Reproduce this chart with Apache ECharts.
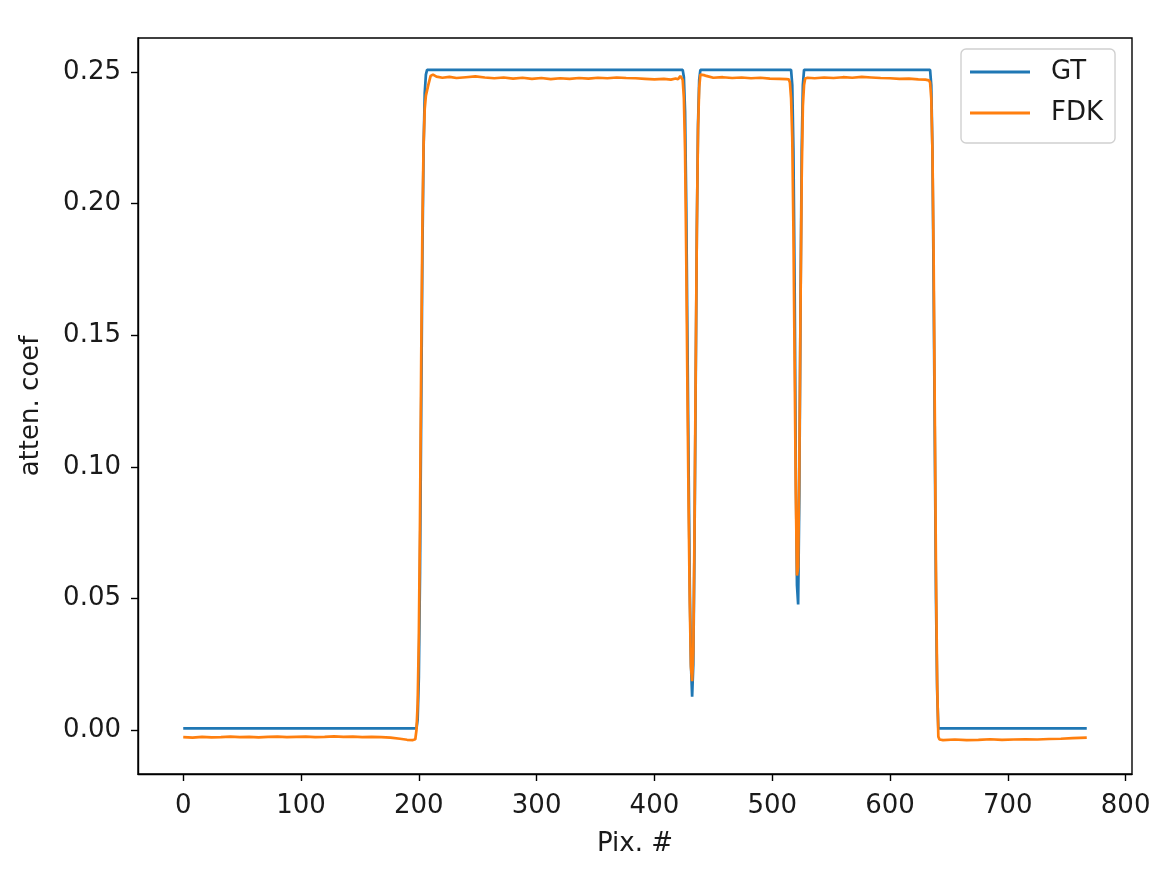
<!DOCTYPE html>
<html>
<head>
<meta charset="utf-8">
<script src="https://cdn.jsdelivr.net/npm/echarts@6/dist/echarts.min.js"></script>
<style>html,body{margin:0;padding:0;background:#fff}#c{width:1174px;height:870px}</style>
</head>
<body>
<div id="c"></div>
<script>
var xTicks = [0, 100, 200, 300, 400, 500, 600, 700, 800];
var yTicks = [0, 0.05, 0.10, 0.15, 0.20, 0.25];
var seriesNames = ['GT', 'FDK'];

var gtData = [
  [0,0.0006],[198,0.0006],[199,0.004],[200,0.02],[201,0.06],[202,0.12],[203,0.18],[204,0.22],[205,0.242],[206,0.249],[207,0.2508],
  [424,0.2508],[425,0.248],[426,0.235],[427,0.2],[428,0.15],[429,0.1],[430,0.055],[431,0.025],[432,0.0127],[433,0.025],[434,0.07],[435,0.13],[436,0.19],[437,0.23],[438,0.247],[439,0.2508],
  [516,0.2508],[517,0.245],[518,0.22],[519,0.17],[520,0.1],[521,0.055],[522,0.0477],[523,0.09],[524,0.16],[525,0.22],[526,0.245],[527,0.2508],
  [634,0.2508],[635,0.245],[636,0.22],[637,0.17],[638,0.11],[639,0.05],[640,0.015],[641,0.0006],[767,0.0006]
];

var fdkData = [
  [0,-0.0027],[8,-0.0029],[16,-0.0026],[24,-0.0028],[32,-0.0027],[40,-0.0025],[48,-0.0027],[56,-0.0026],[64,-0.0028],[72,-0.0026],[80,-0.0025],[88,-0.0027],[96,-0.0026],[104,-0.0025],[112,-0.0027],[120,-0.0026],[128,-0.0024],[136,-0.0026],[144,-0.0025],[152,-0.0027],[160,-0.0026],[168,-0.0027],[176,-0.0029],[184,-0.0033],[190,-0.0037],[195,-0.0038],[197,-0.0035],
  [198,0.0],[199,0.01],[200,0.035],[201,0.08],[202,0.14],[203,0.19],[204,0.222],[205,0.236],[206,0.241],[207,0.243],[208,0.245],[210,0.2485],[212,0.249],[215,0.2482],[220,0.2478],[226,0.2481],[232,0.2477],[240,0.248],[248,0.2483],[256,0.2479],[264,0.2476],[272,0.2479],[280,0.2475],[288,0.2478],[296,0.2474],[304,0.2477],[312,0.2473],[320,0.2476],[328,0.2474],[336,0.2477],[344,0.2475],[352,0.2478],[360,0.2476],[368,0.2479],[376,0.2477],[384,0.2476],[392,0.2474],[400,0.2472],[408,0.2474],[414,0.2471],[418,0.2475],[420,0.2472],[422,0.2485],[423,0.249],
  [424,0.247],[425,0.24],[426,0.22],[427,0.18],[428,0.13],[429,0.085],[430,0.048],[431,0.024],[432,0.0186],[433,0.03],[434,0.075],[435,0.135],[436,0.19],[437,0.228],[438,0.244],[439,0.249],[440,0.2495],[442,0.2488],
  [444,0.2485],[450,0.2478],[458,0.248],[466,0.2477],[474,0.2479],[482,0.2476],[490,0.2478],[498,0.2475],[506,0.2474],[512,0.2473],
  [514,0.2472],[515,0.246],[516,0.24],[517,0.225],[518,0.19],[519,0.14],[520,0.09],[521,0.0587],[522,0.062],[523,0.1],[524,0.16],[525,0.21],[526,0.237],[527,0.245],[528,0.2475],[530,0.2478],
  [536,0.2476],[544,0.2479],[552,0.2477],[560,0.248],[568,0.2478],[576,0.2481],[584,0.2479],[592,0.2477],[600,0.2476],[608,0.2474],[616,0.2475],[624,0.2472],[630,0.2471],[633,0.2468],
  [634,0.246],[635,0.24],[636,0.22],[637,0.18],[638,0.12],[639,0.06],[640,0.018],[641,-0.0025],[642,-0.0036],
  [645,-0.0038],[655,-0.0036],[665,-0.0038],[675,-0.0037],[685,-0.0035],[695,-0.0037],[705,-0.0036],[715,-0.0035],[725,-0.0036],[735,-0.0034],[745,-0.0033],[755,-0.0031],[767,-0.0029]
];

var chart = echarts.init(document.getElementById('c'), null, {renderer: 'canvas'});
var font = 'DejaVu Sans';
var txt = '#1a1a1a';
var fs = 26;
chart.setOption({
  animation: false,
  backgroundColor: '#fff',
  textStyle: {fontFamily: font},
  grid: {left: 138, top: 38, width: 994, height: 736, show: true, borderColor: '#000', borderWidth: 1.4, containLabel: false},
  legend: {
    data: seriesNames,
    orient: 'vertical',
    left: 961, top: 49,
    icon: 'rect',
    itemWidth: 60, itemHeight: 3,
    itemGap: 15,
    padding: [10, 12, 17, 9],
    borderColor: '#d0d0d0', borderWidth: 1.4, borderRadius: 5,
    backgroundColor: 'rgba(255,255,255,0.8)',
    textStyle: {fontSize: fs, color: txt, fontFamily: font, padding: [0, 0, 0, 16]}
  },
  xAxis: {
    type: 'value', min: -38.4, max: 805.4,
    name: 'Pix. #', nameLocation: 'middle', nameGap: 57,
    nameTextStyle: {fontSize: fs, color: txt, fontFamily: font},
    axisLine: {show: true, onZero: false, lineStyle: {color: '#000', width: 1.4}},
    axisTick: {show: true, length: 7, lineStyle: {color: '#000', width: 1.4}, customValues: xTicks},
    axisLabel: {fontSize: fs, color: txt, fontFamily: font, margin: 19, customValues: xTicks, formatter: function(v){return String(v);}},
    splitLine: {show: false}
  },
  yAxis: {
    type: 'value', min: -0.0167, max: 0.2629,
    name: 'atten. coef', nameLocation: 'middle', nameGap: 94,
    nameTextStyle: {fontSize: fs, color: txt, fontFamily: font},
    axisLine: {show: true, onZero: false, lineStyle: {color: '#000', width: 1.4}},
    axisTick: {show: true, length: 7, lineStyle: {color: '#000', width: 1.4}, customValues: yTicks},
    axisLabel: {fontSize: fs, color: txt, fontFamily: font, margin: 17, customValues: yTicks, formatter: function(v){return v.toFixed(2);}},
    splitLine: {show: false}
  },
  series: [
    {name: seriesNames[0], type: 'line', data: gtData, symbol: 'none', lineStyle: {color: '#1f77b4', width: 2.7}, itemStyle: {color: '#1f77b4'}},
    {name: seriesNames[1], type: 'line', data: fdkData, symbol: 'none', lineStyle: {color: '#ff7f0e', width: 2.7}, itemStyle: {color: '#ff7f0e'}}
  ]
});
</script>
</body>
</html>
